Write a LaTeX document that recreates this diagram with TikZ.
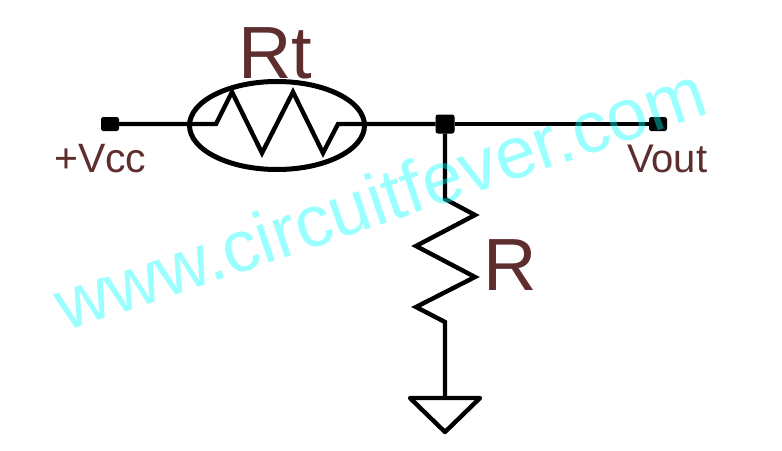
\documentclass[tikz,border=0pt]{standalone}
\usepackage{fontspec}
\setmainfont{Liberation Sans}
\usepackage{xcolor}
\definecolor{brown}{rgb}{0.37,0.18,0.18}
\definecolor{aqua}{rgb}{0,1,1}
\usetikzlibrary{shapes.geometric}
\tikzset{
wire/.style={line width=4.4pt,draw=black,line join=miter},
pin/.style={draw=black,fill=black,rounded corners=2pt,inner sep=0pt,minimum width=17pt,minimum height=13pt,line width=1pt},
dotnode/.style={pin,minimum width=18pt,minimum height=18pt},
bigtext/.style={color=brown,inner sep=0pt,anchor=base west,font=\fontsize{74}{74}\selectfont},
smalltext/.style={color=brown,inner sep=0pt,anchor=base west,font=\fontsize{40}{40}\selectfont},
thermo/.style={ellipse,draw=black,line width=5pt,inner sep=0pt,minimum width=175pt,minimum height=88pt},
mark text/.style={color=aqua,text opacity=0.4,inner sep=0pt,anchor=base west,rotate=18.7,font=\fontsize{73}{73}\selectfont},
}
\begin{document}
\begin{tikzpicture}[x=1pt,y=-1pt]
\useasboundingbox (0,0) rectangle (782,450);
% terminals
\node [pin] (vcc) at (110,124) {};
\node [dotnode] (junction) at (445,124) {};
\node [pin] (vout) at (658,124) {};
\node [thermo] (rt) at (277,125.5) {};
% thermistor zigzag
\coordinate (t1) at (216,124);
\coordinate (t2) at (232,92);
\coordinate (t3) at (262,153);
\coordinate (t4) at (293,92);
\coordinate (t5) at (323,153);
\coordinate (t6) at (338,124);
\draw [wire] (vcc) -- (t1) -- (t2) -- (t3) -- (t4) -- (t5) -- (t6) -- (junction);
\draw [wire] (junction) -- (vout);
% resistor to ground
\coordinate (r0) at (445,199);
\coordinate (r1) at (475,215);
\coordinate (r2) at (416,246);
\coordinate (r3) at (475,277);
\coordinate (r4) at (416,307);
\coordinate (r5) at (445,322);
\coordinate (g0) at (445,398);
\coordinate (g1) at (410,398);
\coordinate (g2) at (480,398);
\coordinate (g3) at (445,432);
\draw [wire] (junction) -- (r0) -- (r1) -- (r2) -- (r3) -- (r4) -- (r5) -- (g0);
\draw [wire,line join=round] (g1) -- (g2) -- (g3) -- cycle;
% labels
\node [bigtext] (rtlabel) at (238,78) {Rt};
\node [bigtext] (rlabel) at (483,290) {R};
\node [smalltext,font=\fontsize{41}{41}\selectfont] (vcclabel) at (54,172) {+Vcc};
\node [smalltext] (voutlabel) at (627,172) {Vout};
\node [mark text] (site) at (65,332) {www.circuitfever.com};
\end{tikzpicture}
\end{document}
